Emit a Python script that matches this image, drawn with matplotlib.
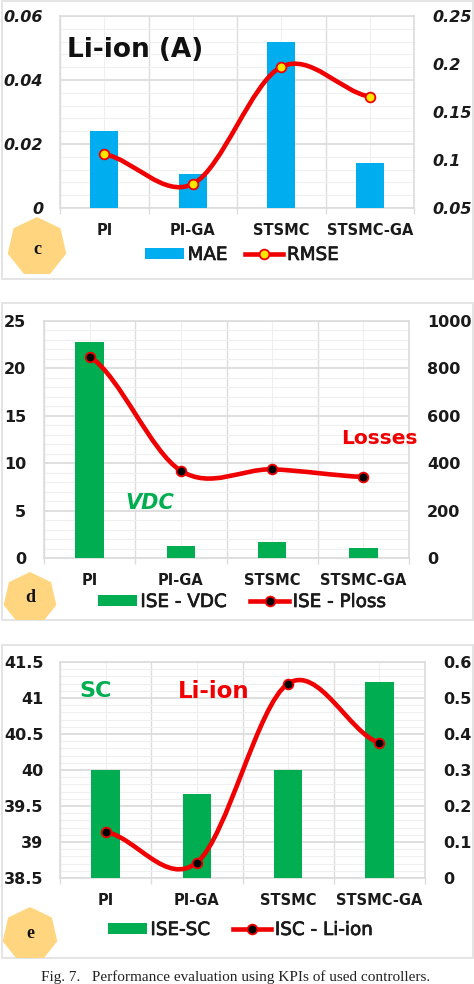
import matplotlib
matplotlib.use('Agg')
import matplotlib.pyplot as plt
import matplotlib.patheffects as pe
from matplotlib.patches import Rectangle, RegularPolygon, PathPatch
from matplotlib.path import Path
from matplotlib.lines import Line2D
from matplotlib.ticker import MultipleLocator

W = 474
H = 984

controllers = ['PI', 'PI-GA', 'STSMC', 'STSMC-GA']

# panel c
mae = [0.024, 0.0105, 0.052, 0.014]
rmse = [0.106, 0.075, 0.197, 0.166]
# panel d
ise_vdc = [22.8, 1.3, 1.7, 1.1]
ise_ploss = [850, 368, 374, 342]
# panel e
ise_sc = [40.0, 39.67, 40.0, 41.22]
isc_liion = [0.128, 0.043, 0.54, 0.375]

BLUE = '#00AEEF'
GREEN = '#00AD50'
RED = '#F00000'
GRID = '#DCDCDC'
MINOR = '#EFEFEF'
HEPT = '#FFD67F'
INK = '#1a1a1a'


def smoothPath(y):
	# same kind of bezier excel uses for a smoothed line
	verts = [(0, y[0])]
	codes = [Path.MOVETO]
	n = len(y)
	for i in range(n - 1):
		y0 = y[max(i - 1, 0)]
		y3 = y[min(i + 2, n - 1)]
		verts.append((i + 1 / 3.0, y[i] + (y[i + 1] - y0) / 6.0))
		verts.append((i + 2 / 3.0, y[i + 1] - (y3 - y[i]) / 6.0))
		verts.append((i + 1, y[i + 1]))
		codes += [Path.CURVE4, Path.CURVE4, Path.CURVE4]
	return Path(verts, codes)


def axBox(left, top, right, bottom):
	return [left / W, 1 - bottom / H, (right - left) / W, (bottom - top) / H]


def drawPanel(box, bars, line, barColor, markerFace, yl, yr, stepL, stepR, minorL,
		fmtL, fmtR, padL, padR, tickSlant, legendLabels, legendAt, colSpace):
	ax = fig.add_axes(axBox(*box))
	ax.patch.set_alpha(0)
	ax.set_xlim(-0.5, 3.5)
	ax.set_ylim(*yl)
	ax.yaxis.set_major_locator(MultipleLocator(stepL))
	ax.yaxis.set_minor_locator(MultipleLocator(minorL))
	ax.grid(True, which='minor', axis='y', color=MINOR, lw=0.8)
	ax.grid(True, which='major', axis='y', color=GRID, lw=1.3)
	ax.set_xticks([-0.5, 0.5, 1.5, 2.5, 3.5])
	ax.set_xticklabels([])
	ax.set_xticks([0, 1, 2, 3], minor=True)
	ax.set_xticklabels(controllers, minor=True, fontsize=10.5, fontweight='bold', color=INK)
	ax.grid(True, which='major', axis='x', color=GRID, lw=1.0)
	ax.grid(True, which='minor', axis='x', color=MINOR, lw=0.8)
	ax.set_axisbelow(True)
	ax.tick_params(axis='x', which='major', length=4, color=GRID, width=1)
	ax.tick_params(axis='x', which='minor', length=0, pad=10.5)
	ax.tick_params(axis='y', which='both', length=0)
	ax.tick_params(axis='y', which='major', pad=padL, labelsize=11.5)
	ax.yaxis.set_major_formatter(fmtL)
	for s in ax.spines.values():
		s.set_color(GRID)
		s.set_linewidth(1.2)
	b = ax.bar(range(4), bars, width=0.315, color=barColor, zorder=3)

	ax2 = ax.twinx()
	ax2.set_ylim(*yr)
	ax2.yaxis.set_major_locator(MultipleLocator(stepR))
	ax2.yaxis.set_major_formatter(fmtR)
	ax2.tick_params(axis='y', length=0, pad=padR, labelsize=11.5)
	for s in ax2.spines.values():
		s.set_visible(False)
	ax2.add_patch(PathPatch(smoothPath(line), fill=False, edgecolor=RED, lw=3.3, capstyle='round', zorder=4))
	ax2.plot(range(4), line, ls='none', marker='o', ms=7, mfc=markerFace, mec=RED, mew=1.3, zorder=5)

	for lab in ax.get_yticklabels() + ax2.get_yticklabels():
		lab.set_fontweight('bold')
		lab.set_color(INK)
		lab.set_fontstyle(tickSlant)

	handle = Line2D([0], [0], color=RED, lw=3.3, marker='o', ms=7, mfc=markerFace, mec=RED, mew=1.3)
	leg = fig.legend([b, handle], legendLabels, loc='center', bbox_to_anchor=(legendAt[0] / W, 1 - legendAt[1] / H),
		ncol=2, frameon=False, fontsize=13.2, handlelength=2.1, handleheight=0.55, handletextpad=0.2,
		columnspacing=colSpace, labelcolor=INK)
	for t in leg.get_texts():
		t.set_path_effects([pe.withStroke(linewidth=0.5, foreground=INK)])


fig = plt.figure(figsize=(W / 100, H / 100), dpi=100)

# frames, heptagons and free text live on a pixel-sized overlay
bg = fig.add_axes([0, 0, 1, 1])
bg.set_xlim(0, W)
bg.set_ylim(H, 0)
bg.axis('off')
frames = [(2, 1, 471, 278), (2, 303, 471, 317), (2, 645, 471, 313)]
for fx, fy, fw, fh in frames:
	bg.add_patch(Rectangle((fx, fy), fw, fh, fill=False, edgecolor='#E4E4E4', lw=1.4))
hepts = [(37, 247, 30, 250, 'c', 279), (30, 599, 27, 597, 'd', 620), (30, 935, 28, 934, 'e', 958)]
for hx, hy, hr, ly, letter, clipY in hepts:
	p = RegularPolygon((hx, hy), 7, radius=hr, orientation=3.14159, facecolor=HEPT, edgecolor='none')
	bg.add_patch(p)
	p.set_clip_path(Rectangle((0, 0), W, clipY, transform=bg.transData))
	bg.text(hx, ly, letter, ha='center', va='center', family='Liberation Serif', weight='bold', fontsize=13, color='#111111')

drawPanel((60, 16, 414, 208), mae, rmse, BLUE, '#FFE600', (0, 0.06), (0.05, 0.25), 0.02, 0.05, 0.004,
	lambda v, pos: '0' if v == 0 else '%.2f' % v, lambda v, pos: ('%.2f' % v).rstrip('0'),
	12, 13, 'italic', ['MAE', 'RMSE'], (242, 255), 0.95)
drawPanel((44, 321, 409, 558), ise_vdc, ise_ploss, GREEN, 'black', (0, 25), (0, 1000), 5, 200, 1,
	lambda v, pos: '%d' % v, lambda v, pos: '%d' % v,
	13, 13, 'normal', ['ISE - VDC', 'ISE - Ploss'], (242, 602), 1.3)
drawPanel((60, 662, 425, 878), ise_sc, isc_liion, GREEN, 'black', (38.5, 41.5), (0, 0.6), 0.5, 0.1, 0.1,
	lambda v, pos: ('%.1f' % v).rstrip('0').rstrip('.'), lambda v, pos: '0' if v == 0 else '%.1f' % v,
	12, 13, 'normal', ['ISE-SC', 'ISC - Li-ion'], (240.5, 930), 1.25)

# overlay text goes above the charts
top = fig.add_axes([0, 0, 1, 1])
top.set_xlim(0, W)
top.set_ylim(H, 0)
top.axis('off')
top.patch.set_alpha(0)
top.text(67, 50, 'Li-ion (A)', fontsize=19, color='#111111', va='center', ha='left', weight='bold')
top.text(125, 503, 'VDC', fontsize=15, color=GREEN, style='italic', va='center', ha='left', weight='bold')
top.text(341, 439, 'Losses', fontsize=14.6, color=RED, va='center', ha='left', weight='bold')
top.text(79, 691, 'SC', fontsize=16, color=GREEN, va='center', ha='left', weight='bold')
top.text(178, 691, 'Li-ion', fontsize=16.5, color=RED, va='center', ha='left', weight='bold')
top.text(41, 977, 'Fig. 7.   Performance evaluation using KPIs of used controllers.', family='Liberation Serif',
	fontsize=10.95, color='#222222', va='center', ha='left')

plt.savefig('out.png', dpi=100)
plt.close()
